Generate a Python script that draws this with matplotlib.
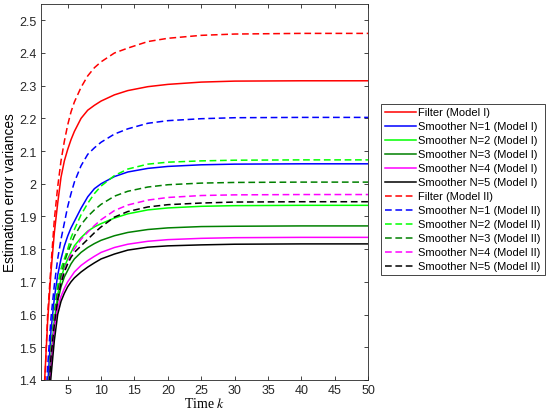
import numpy as np
import matplotlib
matplotlib.use("Agg")
import matplotlib.pyplot as plt

plt.rcParams['font.family'] = ['Liberation Sans', 'DejaVu Sans']
plt.rcParams['mathtext.fontset'] = 'stix'

# time instants
k = [1, 2, 2.5, 3, 3.5, 4, 4.5, 5, 5.5, 6, 7, 8, 9, 10, 12, 14, 17, 20, 25, 30, 40, 50]

# Model I (solid)
filter_I = [1.18, 1.58, 1.73, 1.85, 1.94, 2.02, 2.07, 2.105, 2.135, 2.16, 2.20, 2.225, 2.24, 2.253, 2.272, 2.285, 2.297, 2.304, 2.311, 2.314, 2.315, 2.315]
smooth1_I = [0.95, 1.38, 1.55, 1.65, 1.72, 1.77, 1.81, 1.84, 1.865, 1.885, 1.925, 1.96, 1.985, 2.00, 2.022, 2.036, 2.047, 2.053, 2.058, 2.060, 2.061, 2.061]
smooth2_I = [0.90, 1.33, 1.47, 1.58, 1.66, 1.71, 1.745, 1.77, 1.79, 1.81, 1.835, 1.855, 1.868, 1.878, 1.895, 1.908, 1.920, 1.926, 1.931, 1.933, 1.934, 1.934]
smooth3_I = [0.90, 1.32, 1.46, 1.57, 1.64, 1.685, 1.715, 1.735, 1.755, 1.77, 1.79, 1.805, 1.817, 1.827, 1.841, 1.851, 1.860, 1.865, 1.869, 1.870, 1.871, 1.871]
smooth4_I = [0.88, 1.30, 1.44, 1.56, 1.62, 1.655, 1.68, 1.70, 1.715, 1.73, 1.75, 1.765, 1.778, 1.79, 1.805, 1.815, 1.824, 1.829, 1.833, 1.835, 1.836, 1.836]
smooth5_I = [0.86, 1.28, 1.41, 1.52, 1.60, 1.64, 1.665, 1.685, 1.70, 1.712, 1.73, 1.745, 1.758, 1.77, 1.785, 1.797, 1.806, 1.810, 1.813, 1.815, 1.816, 1.816]

# Model II (dashed)
filter_II = [1.10, 1.60, 1.75, 1.89, 1.99, 2.07, 2.13, 2.18, 2.22, 2.25, 2.295, 2.33, 2.355, 2.373, 2.40, 2.415, 2.435, 2.445, 2.454, 2.458, 2.460, 2.460]
smooth1_II = [1.04, 1.44, 1.59, 1.69, 1.77, 1.83, 1.88, 1.93, 1.97, 2.005, 2.055, 2.09, 2.11, 2.127, 2.152, 2.168, 2.185, 2.193, 2.199, 2.202, 2.203, 2.203]
smooth2_II = [0.92, 1.33, 1.50, 1.61, 1.69, 1.74, 1.77, 1.80, 1.835, 1.86, 1.905, 1.94, 1.97, 1.993, 2.025, 2.045, 2.060, 2.066, 2.070, 2.072, 2.073, 2.073]
smooth3_II = [0.92, 1.33, 1.49, 1.59, 1.67, 1.72, 1.76, 1.79, 1.815, 1.84, 1.875, 1.90, 1.92, 1.937, 1.962, 1.977, 1.990, 1.997, 2.002, 2.004, 2.005, 2.005]
smooth4_II = [0.91, 1.32, 1.48, 1.58, 1.65, 1.70, 1.735, 1.76, 1.785, 1.80, 1.83, 1.852, 1.872, 1.89, 1.918, 1.935, 1.950, 1.958, 1.964, 1.966, 1.967, 1.967]
smooth5_II = [0.90, 1.31, 1.47, 1.57, 1.645, 1.695, 1.73, 1.755, 1.775, 1.79, 1.81, 1.83, 1.85, 1.868, 1.898, 1.915, 1.929, 1.936, 1.941, 1.944, 1.945, 1.945]

labels = ['Filter (Model I)', 'Smoother N=1 (Model I)', 'Smoother N=2 (Model I)',
          'Smoother N=3 (Model I)', 'Smoother N=4 (Model I)', 'Smoother N=5 (Model I)',
          'Filter (Model II)', 'Smoother N=1 (Model II)', 'Smoother N=2 (Model II)',
          'Smoother N=3 (Model II)', 'Smoother N=4 (Model II)', 'Smoother N=5 (Model II)']

series = [filter_I, smooth1_I, smooth2_I, smooth3_I, smooth4_I, smooth5_I,
          filter_II, smooth1_II, smooth2_II, smooth3_II, smooth4_II, smooth5_II]
colors = ['#ff0000', '#0000ff', '#00ff00', '#008000', '#ff00ff', '#000000'] * 2
styles = ['-'] * 6 + ['--'] * 6

fig = plt.figure(figsize=(5.5, 4.14), dpi=100)
ax = fig.add_axes([0.0745, 0.080, 0.595, 0.908])

for y, c, ls, lab in zip(series, colors, styles, labels):
    if ls == '--':
        ax.plot(k, y, color=c, linewidth=1.1, label=lab, dashes=(4.4, 2.4))
    else:
        ax.plot(k, y, color=c, linewidth=1.1, label=lab)

ax.set_xlim(1, 50)
ax.set_ylim(1.4, 2.55)
ax.set_xticks(np.arange(5, 51, 5))
ax.set_yticks(np.arange(1.4, 2.51, 0.1))
ax.set_yticklabels(['1.4', '1.5', '1.6', '1.7', '1.8', '1.9', '2', '2.1', '2.2', '2.3', '2.4', '2.5'])

edge = '#262626'
for s in ax.spines.values():
    s.set_color(edge)
    s.set_linewidth(0.6)
ax.tick_params(direction='in', top=True, right=True, length=3, width=0.6,
               colors=edge, labelsize=9, pad=3)

ax.set_xlabel('Time $k$', family='Liberation Serif', fontsize=10, labelpad=0)
ax.set_ylabel('Estimation error variances', fontsize=9.8, labelpad=2)

leg = ax.legend(loc='upper left', bbox_to_anchor=(1.038, 0.735), fontsize=8,
                frameon=True, fancybox=False, edgecolor=edge, framealpha=1,
                handlelength=2.8, handletextpad=0.25, labelspacing=0.36,
                borderpad=0.35, borderaxespad=0)
leg.get_frame().set_linewidth(0.6)

fig.savefig('out.png', dpi=100)
